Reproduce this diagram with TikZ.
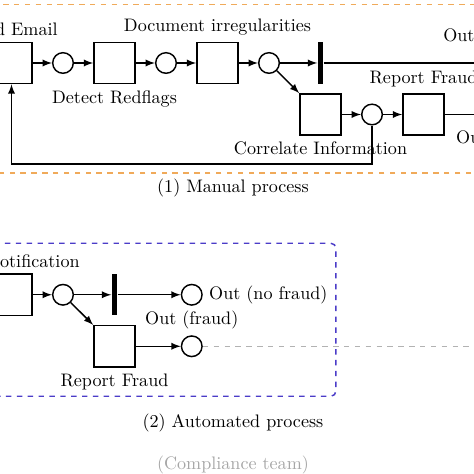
\documentclass[tikz,border=0pt]{standalone}
\usepackage{amsmath}
\usepackage{amssymb}
\usepackage[usenames,dvipsnames]{xcolor}
\usepackage{tikz}
\usetikzlibrary{arrows,positioning}

\definecolor{manualbox}{RGB}{240,170,90}
\definecolor{autobox}{RGB}{75,60,200}

\begin{document}
\begin{tikzpicture}[>=latex,
    trans/.style={draw,thick,minimum size=0.8cm,inner sep=0pt},
    place/.style={draw,thick,circle,minimum size=0.4cm,inner sep=0pt},
    bar/.style={fill=black,minimum width=0.11cm,minimum height=0.8cm,inner sep=0pt},
    flow/.style={->,thick}]
	  \useasboundingbox (-0.223,-7.98) rectangle (8.98,1.223);
	  \clip (-0.223,-7.98) rectangle (8.98,1.223);
	  % Draw the manual process
	  \draw[manualbox,thick,dashed] (-1.1,-2.14) rectangle (9.7,1.14);
	  \node (manual) at (4.3,-2.43) {(1) Manual process};
	  \node[trans] (email) at (0,0) {};
	  \node[anchor=south east] (emaillbl) at (1.02,0.4) {d Email};
	  \node[place] (p_1) at (1,0) {};
	  \node[trans,label=below:Detect Redflags] (redflags) at (2,0) {};
	  \node[place] (p_2) at (3,0) {};
	  \node[trans,label=above:Document irregularities] (irregular) at (4,0) {};
	  \node[place] (p_3) at (5,0) {};
	  \node[bar] (bar_1) at (6,0) {};
	  \node[trans,label=below:Correlate Information] (correlate) at (6,-1) {};
	  \node[place] (p_4) at (7,-1) {};
	  \node[trans,label=above:Report Fraud] (report_1) at (8,-1) {};
	  \coordinate (out_1) at (9.3,0);
	  \coordinate (out_2) at (9.3,-1);
	  \coordinate (fb) at (0,-1.96);
	  \node[anchor=base west] (out1lbl) at (8.26,0.42) {Out};
	  \node[anchor=base west] (out2lbl) at (8.51,-1.557) {Ou};
	  \draw[flow] (email) -- (p_1);
	  \draw[flow] (p_1) -- (redflags);
	  \draw[flow] (redflags) -- (p_2);
	  \draw[flow] (p_2) -- (irregular);
	  \draw[flow] (irregular) -- (p_3);
	  \draw[flow] (p_3) -- (bar_1);
	  \draw[flow] (bar_1) -- (out_1);
	  \draw[flow] (p_3) -- (correlate.north west);
	  \draw[flow] (correlate) -- (p_4);
	  \draw[flow] (p_4) -- (report_1);
	  \draw[flow] (report_1) -- (out_2);
	  % Feedback to the first step
	  \draw[flow] (p_4) |- (fb) -- (email);
	  % Draw the automated process
	  \draw[autobox,thick,dashed,rounded corners=0.1cm] (-1.1,-6.47) rectangle (6.3,-3.5);
	  \node (automated) at (4.3,-6.99) {(2) Automated process};
	  \node[text=gray!70] (team) at (4.3,-7.81) {(Compliance team)};
	  \node[trans] (notif) at (0,-4.5) {};
	  \node[anchor=south east] (notiflbl) at (1.447,-4.1) {otification};
	  \node[place] (p_5) at (1,-4.5) {};
	  \node[bar] (bar_2) at (2,-4.5) {};
	  \node[place,label=right:Out (no fraud)] (nofraud) at (3.5,-4.5) {};
	  \node[trans,label=below:Report Fraud] (report_2) at (2,-5.5) {};
	  \node[place,label=above:Out (fraud)] (fraud) at (3.5,-5.5) {};
	  \coordinate (compliance) at (9.5,-5.5);
	  \draw[flow] (notif) -- (p_5);
	  \draw[flow] (p_5) -- (bar_2);
	  \draw[flow] (bar_2) -- (nofraud);
	  \draw[flow] (p_5) -- (report_2.north west);
	  \draw[flow] (report_2) -- (fraud);
	  \draw[gray!60,semithick,dashed] (fraud) -- (compliance);
\end{tikzpicture}
\end{document}
